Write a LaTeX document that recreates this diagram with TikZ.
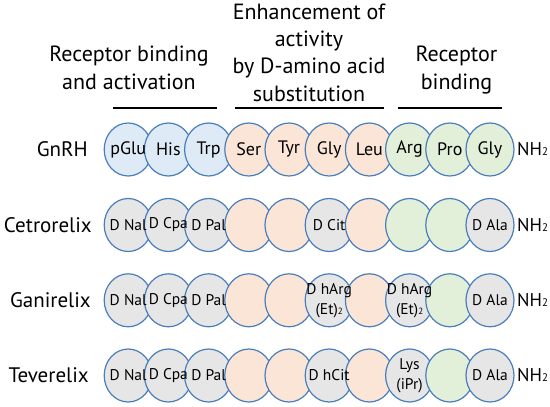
\documentclass[tikz,border=0pt]{standalone}
\usepackage{fontspec}
\setmainfont{PT Sans}
\usetikzlibrary{shapes.geometric}
\definecolor{edgeblue}{RGB}{74,126,187}
\definecolor{fillblue}{RGB}{222,235,247}
\definecolor{fillpeach}{RGB}{251,229,214}
\definecolor{fillgreen}{RGB}{226,240,217}
\definecolor{fillgray}{RGB}{231,230,230}
\newcommand\lowtwo[1]{{\fontsize{#1}{#1}\selectfont 2}}
\tikzset{
  res/.style={ellipse, draw=edgeblue, line width=1.2pt, minimum width=48pt, minimum height=53pt, inner sep=0pt},
  reslbl/.style={align=center, inner sep=0pt, font=\fontsize{15.5}{20}\selectfont},
  gnrhlbl/.style={inner sep=0pt, font=\fontsize{18}{20}\selectfont},
  peptide/.style={anchor=east, inner sep=0pt, font=\fontsize{21}{24}\selectfont},
  header/.style={anchor=base, align=center, inner sep=0pt, font=\fontsize{22}{27.3}\selectfont},
  amide/.style={anchor=west, inner sep=0pt, font=\fontsize{18.5}{20}\selectfont},
}
\begin{document}
\begin{tikzpicture}[x=1pt,y=-1pt]
    \useasboundingbox (0,0) rectangle (550,407);
    % headers
    \node[header] (hdr1) at (129,89) {Receptor binding\\and activation};
    \node[header] (hdr2) at (309,101) {Enhancement of\\activity\\by D-amino acid\\substitution};
    \node[header] (hdr3) at (456.5,89) {Receptor\\binding};
    \draw[line width=2pt] (113,108) -- (217,108);
    \draw[line width=2pt] (235,108) -- (384,108);
    \draw[line width=2pt] (398,108) -- (502,108);
    % GnRH
    \node[peptide] (gnrh) at (88,149.5) {GnRH};
    \foreach \col/\txt [count=\i] in {fillblue/pGlu, fillblue/His, fillblue/Trp, fillpeach/Ser, fillpeach/Tyr, fillpeach/Gly, fillpeach/Leu, fillgreen/Arg, fillgreen/Pro, fillgreen/Gly}
        \node[res, fill=\col] (g\i) at ({88+40.2*\i},149.5) {};
    \foreach \col/\txt [count=\i] in {fillblue/pGlu, fillblue/His, fillblue/Trp, fillpeach/Ser, fillpeach/Tyr, fillpeach/Gly, fillpeach/Leu, fillgreen/Arg, fillgreen/Pro, fillgreen/Gly}
        \node[gnrhlbl] (gt\i) at (g\i) {\txt};
    \node[amide] (gnh) at (517,149.5) {NH\lowtwo{11}};
    % Cetrorelix
    \node[peptide] (cet) at (92,225) {Cetrorelix};
    \foreach \col/\txt [count=\i] in {fillgray/D Nal, fillgray/D Cpa, fillgray/D Pal, fillpeach/{}, fillpeach/{}, fillgray/D Cit, fillpeach/{}, fillgreen/{}, fillgreen/{}, fillgray/D Ala}
        \node[res, fill=\col] (c\i) at ({88+40.2*\i},225) {};
    \foreach \col/\txt [count=\i] in {fillgray/D Nal, fillgray/D Cpa, fillgray/D Pal, fillpeach/{}, fillpeach/{}, fillgray/D Cit, fillpeach/{}, fillgreen/{}, fillgreen/{}, fillgray/D Ala}
        \node[reslbl] (ct\i) at (c\i) {\txt};
    \node[amide] (cnh) at (517,225) {NH\lowtwo{11}};
    % Ganirelix
    \node[peptide] (gan) at (91,300.3) {Ganirelix};
    \foreach \col/\txt [count=\i] in {fillgray/D Nal, fillgray/D Cpa, fillgray/D Pal, fillpeach/{}, fillpeach/{}, fillgray/{D hArg\\(Et)\lowtwo{9}}, fillpeach/{}, fillgray/{D hArg\\(Et)\lowtwo{9}}, fillgreen/{}, fillgray/D Ala}
        \node[res, fill=\col] (n\i) at ({88+40.2*\i},300.3) {};
    \foreach \col/\txt [count=\i] in {fillgray/D Nal, fillgray/D Cpa, fillgray/D Pal, fillpeach/{}, fillpeach/{}, fillgray/{D hArg\\(Et)\lowtwo{9}}, fillpeach/{}, fillgray/{D hArg\\(Et)\lowtwo{9}}, fillgreen/{}, fillgray/D Ala}
        \node[reslbl] (nt\i) at (n\i) {\txt};
    \node[amide] (nnh) at (517,300.3) {NH\lowtwo{11}};
    % Teverelix
    \node[peptide] (tev) at (89,375.5) {Teverelix};
    \foreach \col/\txt [count=\i] in {fillgray/D Nal, fillgray/D Cpa, fillgray/D Pal, fillpeach/{}, fillpeach/{}, fillgray/D hCit, fillpeach/{}, fillgray/{Lys\\(iPr)}, fillgreen/{}, fillgray/D Ala}
        \node[res, fill=\col] (t\i) at ({88+40.2*\i},375.5) {};
    \foreach \col/\txt [count=\i] in {fillgray/D Nal, fillgray/D Cpa, fillgray/D Pal, fillpeach/{}, fillpeach/{}, fillgray/D hCit, fillpeach/{}, fillgray/{Lys\\(iPr)}, fillgreen/{}, fillgray/D Ala}
        \node[reslbl] (tt\i) at (t\i) {\txt};
    \node[amide] (tnh) at (517,375.5) {NH\lowtwo{11}};
\end{tikzpicture}
\end{document}
